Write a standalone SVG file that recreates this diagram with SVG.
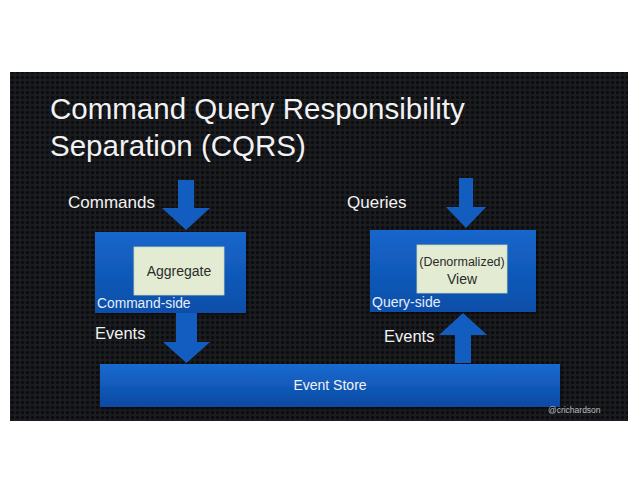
<svg xmlns="http://www.w3.org/2000/svg" width="638" height="493" viewBox="0 0 638 493">
<defs>
<style>
text{font-family:"Liberation Sans",Arial,sans-serif}
.w{fill:#f2f2f2}
.blue{fill:url(#bg)}
.arr{fill:#135dc0}
.note{fill:#e3ecd2;stroke:#c9d6b6;stroke-width:0.8}
.dk{fill:#2b2b2b}
.sl{fill:#e6eef8}
</style>
<pattern id="dots" width="5" height="5" patternUnits="userSpaceOnUse">
<rect width="5" height="5" fill="#1a1c20"/>
<circle cx="2.5" cy="2.5" r="1.7" fill="#0b0c0e"/>
</pattern>
<linearGradient id="bg" x1="0" y1="0" x2="0" y2="1">
<stop offset="0" stop-color="#1666cc"/>
<stop offset="1" stop-color="#0b4ea8"/>
</linearGradient>
<linearGradient id="es" x1="0" y1="0" x2="0" y2="1">
<stop offset="0" stop-color="#1a6ad0"/>
<stop offset="1" stop-color="#0a4aa3"/>
</linearGradient>
<filter id="sh" x="-10%" y="-10%" width="130%" height="140%">
<feDropShadow dx="1" dy="2" stdDeviation="1.5" flood-color="#000" flood-opacity="0.5"/>
</filter>
</defs>
<rect width="638" height="493" fill="#ffffff"/>
<rect id="slide" x="10" y="72" width="618" height="349" fill="url(#dots)"/>
<g id="title">
<text class="w" x="50" y="119" font-size="29.5">Command Query Responsibility</text>
<text class="w" x="50" y="156" font-size="29.5">Separation (CQRS)</text>
</g>
<g id="commands-label"><text class="w" x="68" y="208" font-size="17">Commands</text></g>
<g id="queries-label"><text class="w" x="347" y="208" font-size="17">Queries</text></g>
<g id="command-side">
<rect class="blue" x="95" y="232" width="151" height="81" filter="url(#sh)"/>
<text class="sl" x="97" y="308" font-size="13.8">Command-side</text>
</g>
<g id="aggregate">
<rect class="note" x="134" y="247" width="90" height="48"/>
<text class="dk" x="179" y="276" font-size="14" text-anchor="middle">Aggregate</text>
</g>
<g id="query-side">
<rect class="blue" x="370" y="230" width="166" height="82" filter="url(#sh)"/>
<text class="sl" x="372" y="307" font-size="14">Query-side</text>
</g>
<g id="view">
<rect class="note" x="417" y="245" width="90" height="48"/>
<text class="dk" x="462" y="266" font-size="12.5" text-anchor="middle">(Denormalized)</text>
<text class="dk" x="462" y="284" font-size="14" text-anchor="middle">View</text>
</g>
<g id="event-store">
<rect x="100" y="364" width="460" height="43" fill="url(#es)" filter="url(#sh)"/>
<text class="w" x="330" y="390" font-size="14" text-anchor="middle">Event Store</text>
</g>
<g id="events-left"><text class="w" x="95" y="339" font-size="16.5">Events</text></g>
<g id="events-right"><text class="w" x="384" y="342" font-size="16.5">Events</text></g>
<g id="attribution"><text x="548" y="413" font-size="8.5" fill="#bdbdbd">@crichardson</text></g>
<g id="connectors">
<polygon class="arr" points="178,180 194,180 194,208 210,208 186,230 162,208 178,208"/>
<polygon class="arr" points="176,313 197,313 197,342 210,342 186.5,363 163,342 176,342"/>
<polygon class="arr" points="459,178 473,178 473,207 486,207 466,228 446,207 459,207"/>
<polygon class="arr" points="463,313 487,335 471,335 471,363 455,363 455,335 439,335"/>
</g>
</svg>
